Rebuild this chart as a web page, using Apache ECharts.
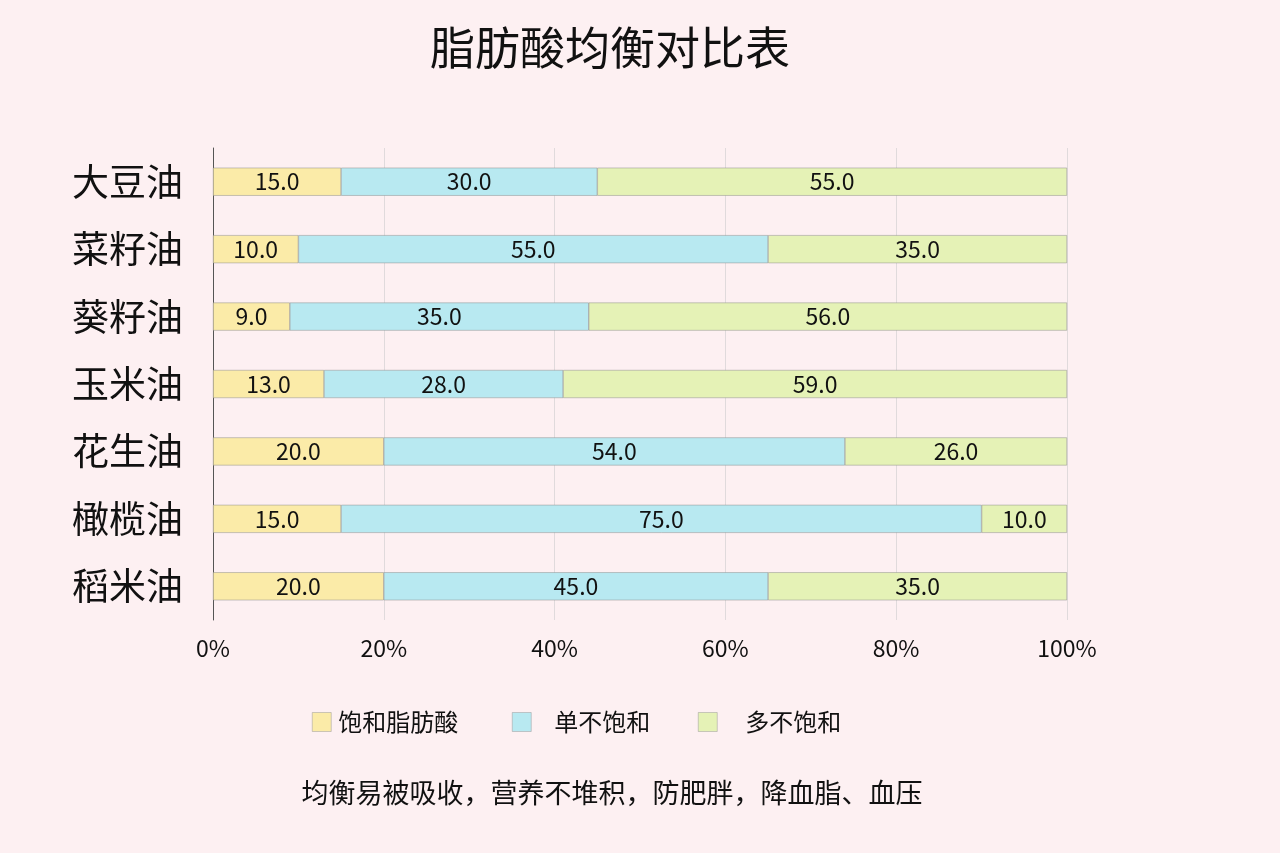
<!DOCTYPE html>
<html>
<head>
<meta charset="utf-8">
<script src="https://cdn.jsdelivr.net/npm/echarts@6/dist/echarts.min.js"></script>
<style>
  html, body { margin: 0; padding: 0; background: #fdf0f2; }
  #chart { width: 1280px; height: 853px; }
</style>
</head>
<body>
<div id="chart"></div>
<script>
// 油种
const oils = ['大豆油', '菜籽油', '葵籽油', '玉米油', '花生油', '橄榄油', '稻米油']
// 三类脂肪酸占比 (%)
const saturated = [15, 10, 9, 13, 20, 15, 20]
const mono = [30, 55, 35, 28, 54, 75, 45]
const poly = [55, 35, 56, 59, 26, 10, 35]
const seriesNames = ['饱和脂肪酸', '单不饱和', '多不饱和']
const colors = ['#fbeba8', '#b8e9f1', '#e5f2b6']

const font = '"Noto Sans CJK SC", sans-serif'

const makeSeries = (name, data, color) => ({
  name,
  type: 'bar',
  stack: 'total',
  data,
  barWidth: 28,
  itemStyle: { color, borderColor: '#8f8f8f', borderWidth: 0.5 },
  label: {
    show: true,
    position: 'inside',
    color: '#111',
    fontSize: 23,
    fontFamily: font,
    formatter: p => p.value.toFixed(1)
  }
})

const chart = echarts.init(document.getElementById('chart'))
chart.setOption({
  backgroundColor: '#fdf0f2',
  animation: false,
  title: [
    {
      text: '脂肪酸均衡对比表',
      left: 605, top: 20, textAlign: 'center',
      textStyle: { fontSize: 45, fontWeight: 'normal', color: '#111', fontFamily: font }
    },
    {
      text: '均衡易被吸收，营养不堆积，防肥胖，降血脂、血压',
      left: 607, top: 774, textAlign: 'center',
      textStyle: { fontSize: 27, fontWeight: 'normal', color: '#111', fontFamily: font }
    }
  ],
  legend: [
    { data: [seriesNames[0]], left: 307, top: 705 },
    { data: [seriesNames[1]], left: 507, top: 705 },
    { data: [seriesNames[2]], left: 693, top: 705 }
  ].map((l, i) => Object.assign(l, {
    icon: 'rect',
    itemWidth: 19, itemHeight: 19,
    itemStyle: { borderColor: '#999', borderWidth: 0.5 },
    textStyle: { fontSize: 24, color: '#111', fontFamily: font, padding: [0, 0, 0, [2, 18, 23][i]] }
  })),
  grid: { left: 213, right: 213, top: 148, bottom: 233 },
  xAxis: {
    type: 'value',
    min: 0, max: 100, interval: 20,
    axisLine: { show: false },
    axisTick: { show: false },
    splitLine: { lineStyle: { color: '#e0dadc', width: 1 } },
    axisLabel: {
      formatter: '{value}%', margin: 17,
      fontSize: 23, color: '#111', fontFamily: font
    }
  },
  yAxis: {
    type: 'category',
    data: oils,
    inverse: true,
    axisLine: { lineStyle: { color: '#555' } },
    axisTick: { show: false },
    axisLabel: { fontSize: 37, color: '#111', margin: 30, fontFamily: font }
  },
  color: colors,
  series: [
    makeSeries(seriesNames[0], saturated, colors[0]),
    makeSeries(seriesNames[1], mono, colors[1]),
    makeSeries(seriesNames[2], poly, colors[2])
  ]
})
</script>
</body>
</html>
